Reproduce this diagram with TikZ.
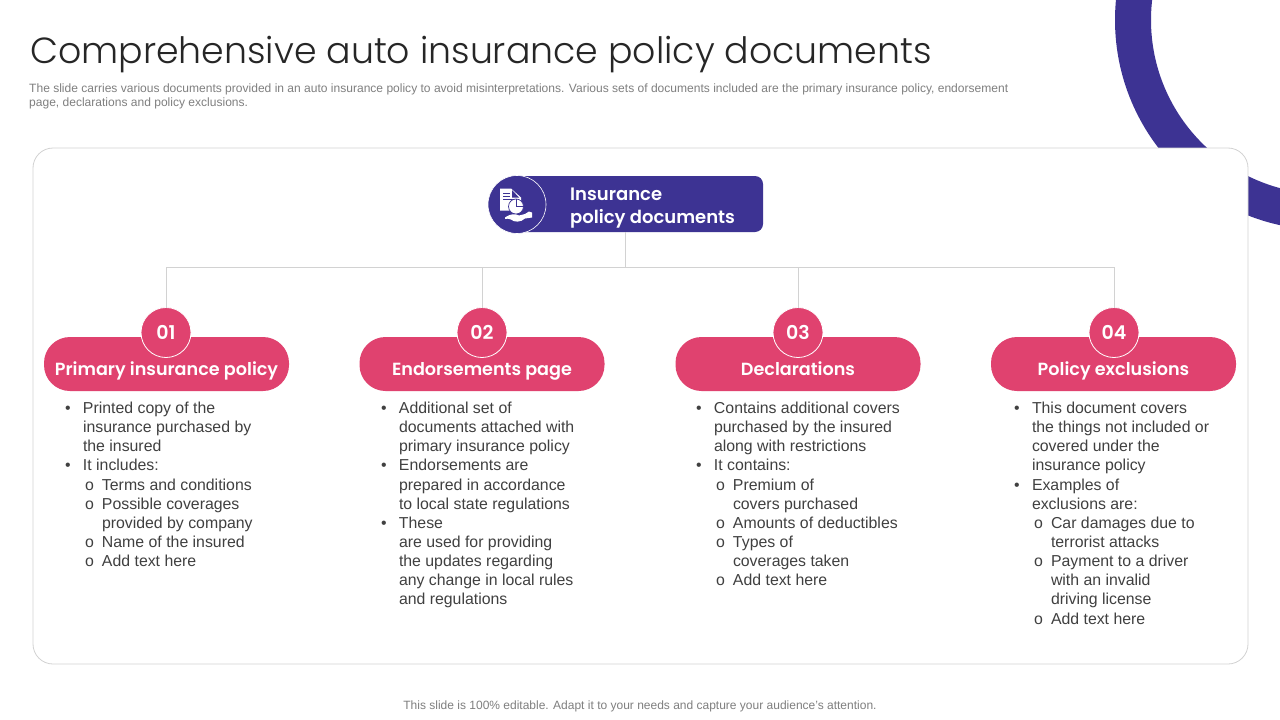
\documentclass[tikz,border=0pt]{standalone}
\usepackage{fontspec}
\setmainfont{Liberation Sans}
\newfontfamily\titlefont{Poppins Light}
\newfontfamily\headfont{Poppins SemiBold}
\usetikzlibrary{positioning}
\definecolor{ringblue}{HTML}{3D3393}
\definecolor{pillred}{HTML}{E0426F}
\definecolor{bodygrey}{HTML}{404040}
\definecolor{notegrey}{HTML}{7F7F7F}
\definecolor{linegrey}{HTML}{D2D2D2}
\newcommand{\itemone}[1]{\makebox[19pt][l]{\hspace{1pt}\textbullet}#1}
\newcommand{\contone}[1]{\hspace{19pt}#1}
\newcommand{\itemtwo}[1]{\hspace{19pt}\makebox[19pt][l]{\hspace{2pt}o}#1}
\newcommand{\conttwo}[1]{\hspace{38pt}#1}
\begin{document}
\begin{tikzpicture}[
		x=1pt, y=-1pt,
		panel/.style = {draw=linegrey, fill=white, rounded corners=20pt, line width=0.8pt},
		link/.style = {draw=linegrey, line width=0.8pt},
		pill/.style = {
			fill=pillred, text=white, rectangle, rounded corners=26pt,
			minimum width=245pt, minimum height=54pt,
			inner sep=0pt, outer sep=0pt, text height=24pt, text depth=2pt,
			font=\headfont\fontsize{17.6}{20}\selectfont
			},
		numdot/.style = {
			circle, fill=pillred, draw=white, line width=0.8pt, text=white,
			minimum size=50pt, inner sep=0pt, outer sep=0pt,
			font=\headfont\fontsize{19}{21}\selectfont
			},
		details/.style = {
			text=bodygrey, align=left, inner sep=0pt, outer sep=0pt,
			font=\fontsize{15.85}{19.15}\selectfont
			}
		]
		\useasboundingbox (0,0) rectangle (1280,720);
		\fill[white] (0,0) rectangle (1280,720);

		% ring behind the panel
		\draw[ringblue, line width=36pt] (1325,20) circle (192);

		\node[anchor=west, inner sep=0pt, text=black!85, font=\titlefont\fontsize{36.3}{40}\selectfont] (title) at (30,55) {Comprehensive auto insurance policy documents};
		\node[anchor=north west, inner sep=0pt, align=left, text=notegrey, font=\fontsize{12.04}{14.2}\selectfont] (intro) at (29,83.5) {The slide carries various documents provided in an auto insurance policy to avoid misinterpretations. Various sets of documents included are the primary insurance policy, endorsement\\page, declarations and policy exclusions.};

		\draw[panel] (33,148) rectangle (1248,664);

		% top box
		\node[minimum width=275pt, minimum height=56pt, inner sep=0pt, outer sep=0pt] (head) at (625.5,204) {};
		\node[circle, minimum size=58pt, inner sep=0pt, outer sep=0pt] (headicon) at (517,204.5) {};
		\fill[ringblue, rounded corners=8pt] (headicon.center |- head.north) -- (head.north east) -- (head.south east) -- (headicon.center |- head.south) -- cycle;
		\node[circle, fill=ringblue, draw=white, line width=0.6pt, minimum size=58pt, inner sep=0pt] at (headicon) {};
		\node[anchor=west, inner sep=0pt, align=left, text=white, font=\headfont\fontsize{18}{23}\selectfont] (headtext) at (570,208) {Insurance\\policy documents};

		% icon in the top box
		\begin{scope}[shift={(517,204.5)}]
			\fill[white] (-17,-16) -- (-6,-16) -- (4,-7) -- (4,-3) -- (-1,6) -- (-17,6) -- cycle;
			\fill[ringblue] (-5,-14.5) -- (-5,-7) -- (2,-7) -- cycle;
			\draw[ringblue, line width=0.7pt] (-14,-11) -- (-7,-11) (-14,-8) -- (-7,-8) (-14,-5) -- (-2,-5);
			\fill[white, draw=ringblue, line width=0.7pt] (-1,2) circle (7.5);
			\draw[ringblue, line width=0.7pt] (-1,2) -- (-1,-5.5) (-1,2) -- (6.5,2);
			\fill[white] (-12,13) .. controls (-6,9) and (-2,9) .. (2,11) -- (8,9.5) -- (12,7) -- (15,8) -- (15,13) -- (8,14) .. controls (4,18) and (-3,18) .. (-6,15) .. controls (-8,14) and (-10,14) .. (-12,14.5) -- cycle;
		\end{scope}

		% the four columns
		\node[pill] (pill1) at (166.5,364) {Primary insurance policy};
		\node[pill] (pill2) at (482,364) {Endorsements page};
		\node[pill] (pill3) at (798,364) {Declarations};
		\node[pill] (pill4) at (1113.5,364) {Policy exclusions};

		\node[numdot] (num1) at (166,332.5) {01};
		\node[numdot] (num2) at (482,332.5) {02};
		\node[numdot] (num3) at (798,332.5) {03};
		\node[numdot] (num4) at (1114,332.5) {04};

		\coordinate (bus) at (625.5,267);
		\draw[link] (head.south) -- (bus);
		\draw[link] (num1.north) |- (bus);
		\draw[link] (num2.north) |- (bus);
		\draw[link] (num3.north) |- (bus);
		\draw[link] (num4.north) |- (bus);

		\node[details, anchor=north west] (text1) at (64,402) {%
			\itemone{Printed copy of the}\\
			\contone{insurance purchased by}\\
			\contone{the insured}\\
			\itemone{It includes:}\\
			\itemtwo{Terms and conditions}\\
			\itemtwo{Possible coverages}\\
			\conttwo{provided by company}\\
			\itemtwo{Name of the insured}\\
			\itemtwo{Add text here}};
		\node[details, anchor=north west] (text2) at (380,402) {%
			\itemone{Additional set of}\\
			\contone{documents attached with}\\
			\contone{primary insurance policy}\\
			\itemone{Endorsements are}\\
			\contone{prepared in accordance}\\
			\contone{to local state regulations}\\
			\itemone{These}\\
			\contone{are used for providing}\\
			\contone{the updates regarding}\\
			\contone{any change in local rules}\\
			\contone{and regulations}};
		\node[details, anchor=north west] (text3) at (695,402) {%
			\itemone{Contains additional covers}\\
			\contone{purchased by the insured}\\
			\contone{along with restrictions}\\
			\itemone{It contains:}\\
			\itemtwo{Premium of}\\
			\conttwo{covers purchased}\\
			\itemtwo{Amounts of deductibles}\\
			\itemtwo{Types of}\\
			\conttwo{coverages taken}\\
			\itemtwo{Add text here}};
		\node[details, anchor=north west] (text4) at (1013,402) {%
			\itemone{This document covers}\\
			\contone{the things not included or}\\
			\contone{covered under the}\\
			\contone{insurance policy}\\
			\itemone{Examples of}\\
			\contone{exclusions are:}\\
			\itemtwo{Car damages due to}\\
			\conttwo{terrorist attacks}\\
			\itemtwo{Payment to a driver}\\
			\conttwo{with an invalid}\\
			\conttwo{driving license}\\
			\itemtwo{Add text here}};

		\node[inner sep=0pt, text=notegrey, font=\fontsize{12}{14}\selectfont] (footnote) at (640,706) {This slide is 100\% editable. Adapt it to your needs and capture your audience's attention.};
	\end{tikzpicture}
\end{document}
